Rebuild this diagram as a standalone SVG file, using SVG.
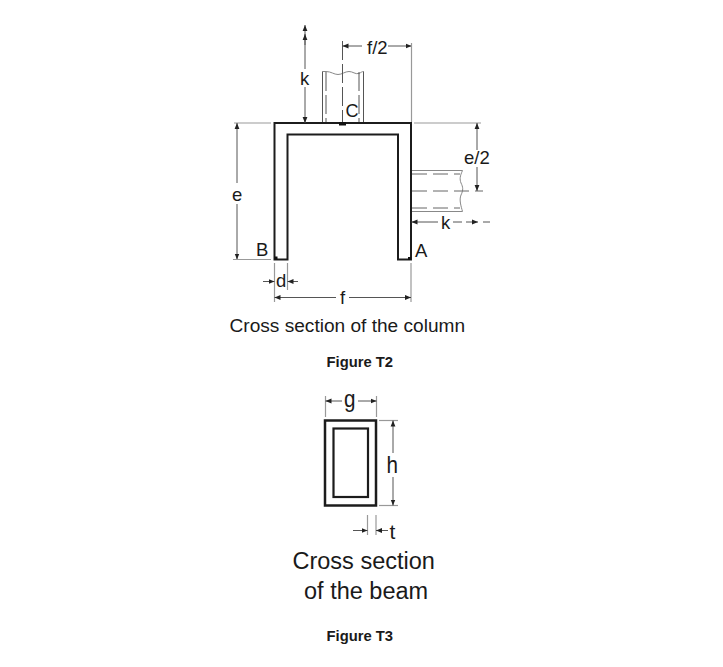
<svg xmlns="http://www.w3.org/2000/svg" width="723" height="667" viewBox="0 0 723 667">
<defs>
<marker id="ah" markerUnits="userSpaceOnUse" markerWidth="7" markerHeight="6" refX="6" refY="3" orient="auto-start-reverse"><path d="M0,0.6 L6,3 L0,5.4 Z" fill="#222"/></marker>
</defs>
<style>
text{font-family:"Liberation Sans",Arial,sans-serif;fill:#1a1a1a}
.o{fill:none;stroke:#1c1c1c;stroke-width:2}
.e{fill:none;stroke:#999;stroke-width:1.2}
.m{fill:none;stroke:#555;stroke-width:1}
.w{fill:none;stroke:#888;stroke-width:1}
.da{fill:none;stroke:#555;stroke-width:1;stroke-dasharray:19 4}
.ds{fill:none;stroke:#666;stroke-width:1;stroke-dasharray:15 6}
.ar{marker-end:url(#ah)}
.l{font-size:18.500px}
.b{font-size:14.800px;font-weight:bold}
</style>
<rect width="723" height="667" fill="#fff"/>
<g id="column-section">
<path class="o" d="M274.500,259.500 V123 H411 V259.500 H398 V134.500 H287.500 V259.500 Z"/>
<rect x="339" y="122" width="7" height="3.500" fill="#111"/>
<rect x="274.500" y="256.500" width="3" height="3" fill="#111"/>
<rect x="408" y="257" width="3" height="3" fill="#111"/>
</g>
<g id="top-member">
<path class="w" d="M322.500,71.500 H326 C331,71.500 334,74.500 338,74.500 C342,74.500 345,71.500 349,71.500 C353,71.500 355,74.500 359,73.500 C361,72.500 362,71.500 363.500,71.500"/>
<path class="m" d="M322.500,71.500 V122 M363.500,71.500 V122"/>
<path class="da" d="M326,72 V122"/>
<path class="da" d="M359,72 V122"/>
<path class="da" d="M342.500,41 V122"/>
</g>
<g id="right-member">
<path class="w" d="M412,170.500 H462.500 C460,176 459.500,179 461,183 C463,187 463.500,190 461,195 C459,200 461,206 462.500,211.500 H412"/>
<path class="ds" d="M412,174 H460"/>
<path class="ds" d="M412,208 H460"/>
<path class="ds" d="M412,191 H483"/>
</g>
<g id="connectors">
<path class="m ar" d="M305,87 V123"/>
<path class="m ar" d="M305,69 V25"/>
<path class="m ar" d="M305,45 V34"/>
<path class="m ar" d="M362,46 H342.500"/>
<path class="m ar" d="M388,46 H411.500"/>
<path class="e" d="M411.500,43 V122"/>
<path class="e" d="M234,123 H271"/>
<path class="m ar" d="M237,183 V123"/>
<path class="m ar" d="M237,204 V259.500"/>
<path class="e" d="M233,259.500 H271"/>
<path class="e" d="M414,123 H481"/>
<path class="m ar" d="M477,150 V123"/>
<path class="m ar" d="M477,167 V191"/>
<path class="e" d="M274.500,263 V302"/>
<path class="e" d="M287.500,263 V290"/>
<path class="e" d="M411,263 V302"/>
<path class="m ar" d="M263,281.500 H274.500"/>
<path class="m ar" d="M298,281.500 H287.500"/>
<path class="m ar" d="M336,297.500 H274.500"/>
<path class="m ar" d="M349,297.500 H411"/>
<path class="m ar" d="M438,222 H411.500"/>
<path class="m" d="M453,222 H462"/>
<path class="m ar" d="M466,222 H478"/>
<path class="m" d="M483,222 H490"/>
<path class="e" d="M325.500,396 V417"/>
<path class="e" d="M376.500,396 V417"/>
<path class="m ar" d="M342,401 H325.500"/>
<path class="m ar" d="M358,401 H376.500"/>
<path class="e" d="M379,420.500 H398"/>
<path class="e" d="M379,505.500 H398"/>
<path class="m ar" d="M393,453 V420.500"/>
<path class="m ar" d="M393,477 V505.500"/>
<path class="e" d="M367.500,515 V535"/>
<path class="e" d="M376,515 V535"/>
<path class="m ar" d="M353,530.500 H367.500"/>
<path class="m ar" d="M388,530.500 H376"/>
</g>
<g id="beam-section">
<rect x="325" y="420.500" width="51" height="85" fill="none" stroke="#1c1c1c" stroke-width="2.500"/>
<rect x="333.500" y="428.500" width="34.500" height="68.500" fill="none" stroke="#1c1c1c" stroke-width="2.200"/>
</g>
<g id="labels">
<text class="l" x="300" y="85">k</text>
<text x="345.500" y="116.500" font-size="18">C</text>
<text class="l" x="367" y="54">f/2</text>
<text class="l" x="464" y="164">e/2</text>
<text class="l" x="232" y="201">e</text>
<text class="l" x="256" y="256">B</text>
<text class="l" x="415" y="257">A</text>
<text class="l" x="276" y="287">d</text>
<text class="l" x="340" y="303.500">f</text>
<text class="l" x="441" y="229">k</text>
<text x="229.500" y="332" font-size="19.100">Cross section of the column</text>
<text class="b" x="326.500" y="367">Figure T2</text>
<text x="344" y="407" font-size="23" textLength="11.500" lengthAdjust="spacingAndGlyphs">g</text>
<text x="386.500" y="472.500" font-size="24.500" textLength="11.500" lengthAdjust="spacingAndGlyphs">h</text>
<text x="389.500" y="539" font-size="21">t</text>
<text x="292.500" y="569" font-size="23.500">Cross section</text>
<text x="304" y="599" font-size="23.500">of the beam</text>
<text class="b" x="326.500" y="641">Figure T3</text>
</g>
</svg>
